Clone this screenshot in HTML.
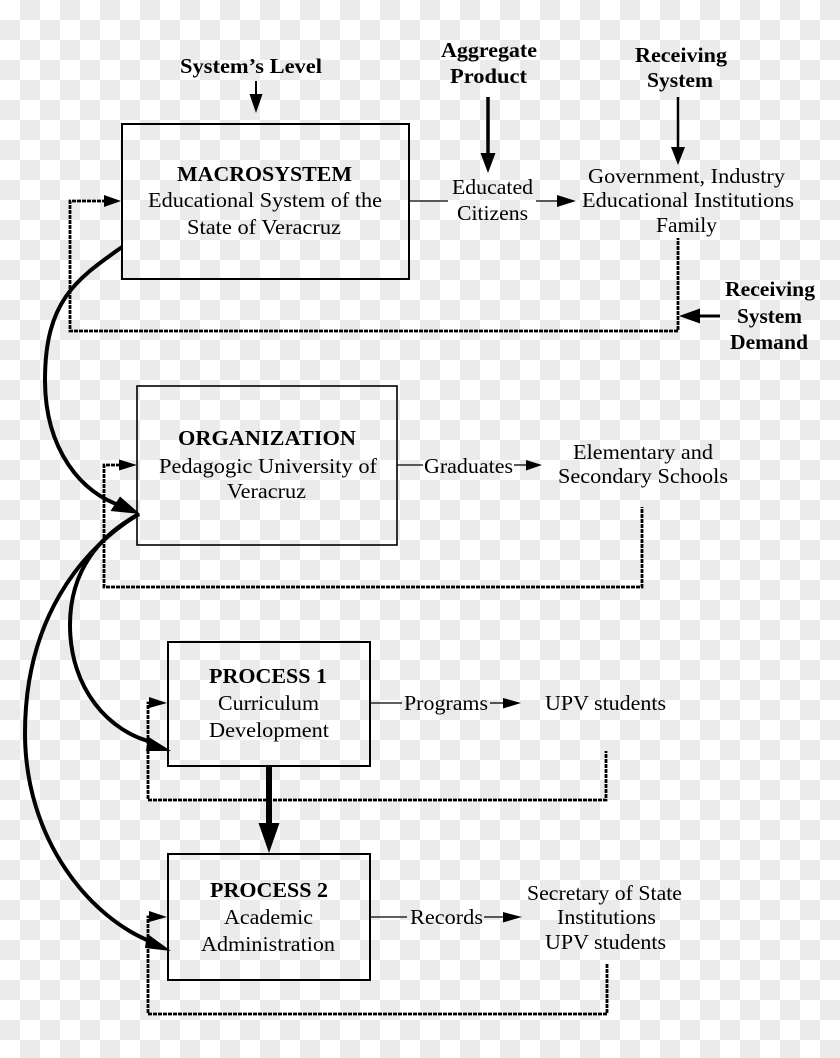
<!DOCTYPE html>
<html>
<head>
<meta charset="utf-8">
<style>
  html,body{margin:0;padding:0;background:#fff;}
  svg{display:block;}
  text{font-family:"Liberation Serif","Times New Roman",serif;fill:#000;font-size:21px;}
  .b{font-weight:bold;}
</style>
</head>
<body>
<svg width="840" height="1058" viewBox="0 0 840 1058" xmlns="http://www.w3.org/2000/svg">
  <defs>
    <pattern id="cb" x="0" y="0" width="40" height="40" patternUnits="userSpaceOnUse">
      <rect x="0" y="0" width="40" height="40" fill="#ffffff"/>
      <rect x="20" y="0" width="20" height="20" fill="#ebebeb"/>
      <rect x="0" y="20" width="20" height="20" fill="#ebebeb"/>
    </pattern>
  </defs>
  <rect x="0" y="0" width="840" height="1058" fill="url(#cb)"/>

  <!-- Boxes -->
  <rect x="122" y="124" width="287" height="155" fill="none" stroke="#000" stroke-width="2"/>
  <rect x="137" y="386" width="260" height="159" fill="none" stroke="#000" stroke-width="1.6"/>
  <rect x="168" y="642" width="202" height="124" fill="none" stroke="#000" stroke-width="2"/>
  <rect x="168" y="854" width="202" height="126" fill="none" stroke="#000" stroke-width="2"/>

  <!-- Dotted feedback loops -->
  <g fill="none" stroke="#000" stroke-width="2.8" stroke-dasharray="4 1">
    <path d="M106,201 H70 V331 H678 V238"/>
    <path d="M120,465 H104 V587 H642 V507"/>
    <path d="M151,703 H148 V800 H606 V751"/>
    <path d="M151,917 H148 V1014 H607 V964"/>
  </g>
  <g fill="#000">
    <polygon points="121,201 104,195 104,207"/>
    <polygon points="137,465 119,459.5 119,470.5"/>
    <polygon points="167,703 149,697 149,708"/>
    <polygon points="167,917 149,911 149,922"/>
  </g>

  <!-- Thin connectors -->
  <g fill="none" stroke="#000" stroke-width="1.3">
    <path d="M409,201 H448"/>
    <path d="M536,201 H560"/>
    <path d="M397,465 H423"/>
    <path d="M514,465 H528"/>
    <path d="M370,703 H402"/>
    <path d="M490,703 H504"/>
    <path d="M370,917 H407"/>
    <path d="M484,917 H504"/>
  </g>
  <g fill="#000">
    <polygon points="576,201 557,195 557,207"/>
    <polygon points="542,465 526,460 526,470.5"/>
    <polygon points="521,703 503,698 503,708.5"/>
    <polygon points="522,917 503,912 503,922.5"/>
  </g>

  <!-- Vertical/horizontal input arrows -->
  <g fill="none" stroke="#000">
    <path d="M256,81 V100" stroke-width="2"/>
    <path d="M488,97 V156" stroke-width="3.5"/>
    <path d="M678,97 V150" stroke-width="2.5"/>
    <path d="M720,316 H697" stroke-width="3"/>
    <path d="M269,766 V826" stroke-width="6"/>
  </g>
  <g fill="#000">
    <polygon points="256,113 249.5,94 262.5,94"/>
    <polygon points="488,173 480.5,153 495.5,153"/>
    <polygon points="678,165 671,147 685,147"/>
    <polygon points="679,316 700,308.5 700,323.5"/>
    <polygon points="269,853 258.5,823 279.5,823"/>
  </g>

  <!-- Thick curved arrows -->
  <g fill="none" stroke="#000" stroke-width="4">
    <path d="M122,247 C77,279 45,300 45,380 C45,450 82,494 122,506"/>
    <path d="M139,514 C80,550 25,620 25,733 C25,840 90,918 152,942"/>
    <path d="M139,514 C100,535 70,570 70,625 C70,690 110,732 152,742"/>
  </g>
  <g fill="#000">
    <polygon points="140,514 120,496.5 110.5,511"/>
    <polygon points="171,751 148,736.5 146,751"/>
    <polygon points="171,951 147,933.5 145,948"/>
  </g>

  <!-- Bold labels -->
  <text class="b" x="180" y="73" textLength="142" lengthAdjust="spacingAndGlyphs">System’s Level</text>
  <text class="b" x="441" y="57" textLength="96" lengthAdjust="spacingAndGlyphs">Aggregate</text>
  <text class="b" x="450" y="83" textLength="77" lengthAdjust="spacingAndGlyphs">Product</text>
  <text class="b" x="635" y="62" textLength="92" lengthAdjust="spacingAndGlyphs">Receiving</text>
  <text class="b" x="647" y="87" textLength="66" lengthAdjust="spacingAndGlyphs">System</text>
  <text class="b" x="725" y="296" textLength="90" lengthAdjust="spacingAndGlyphs">Receiving</text>
  <text class="b" x="737" y="323" textLength="65" lengthAdjust="spacingAndGlyphs">System</text>
  <text class="b" x="730" y="349" textLength="78" lengthAdjust="spacingAndGlyphs">Demand</text>
  <text class="b" x="177" y="181" textLength="175" lengthAdjust="spacingAndGlyphs">MACROSYSTEM</text>
  <text class="b" x="178" y="445" textLength="178" lengthAdjust="spacingAndGlyphs">ORGANIZATION</text>
  <text class="b" x="209" y="683" textLength="118" lengthAdjust="spacingAndGlyphs">PROCESS 1</text>
  <text class="b" x="210" y="897" textLength="118" lengthAdjust="spacingAndGlyphs">PROCESS 2</text>

  <!-- Regular labels -->
  <text x="148" y="207" textLength="234" lengthAdjust="spacingAndGlyphs">Educational System of the</text>
  <text x="187" y="234" textLength="154" lengthAdjust="spacingAndGlyphs">State of Veracruz</text>
  <text x="452" y="194" textLength="81" lengthAdjust="spacingAndGlyphs">Educated</text>
  <text x="457" y="220" textLength="71" lengthAdjust="spacingAndGlyphs">Citizens</text>
  <text x="588" y="183" textLength="197" lengthAdjust="spacingAndGlyphs">Government, Industry</text>
  <text x="582" y="207" textLength="212" lengthAdjust="spacingAndGlyphs">Educational Institutions</text>
  <text x="656" y="232" textLength="61" lengthAdjust="spacingAndGlyphs">Family</text>
  <text x="159" y="473" textLength="218" lengthAdjust="spacingAndGlyphs">Pedagogic University of</text>
  <text x="227" y="498" textLength="79" lengthAdjust="spacingAndGlyphs">Veracruz</text>
  <text x="424" y="473" textLength="89" lengthAdjust="spacingAndGlyphs">Graduates</text>
  <text x="573" y="459" textLength="140" lengthAdjust="spacingAndGlyphs">Elementary and</text>
  <text x="558" y="483" textLength="170" lengthAdjust="spacingAndGlyphs">Secondary Schools</text>
  <text x="218" y="710" textLength="101" lengthAdjust="spacingAndGlyphs">Curriculum</text>
  <text x="209" y="737" textLength="120" lengthAdjust="spacingAndGlyphs">Development</text>
  <text x="404" y="710" textLength="84" lengthAdjust="spacingAndGlyphs">Programs</text>
  <text x="545" y="710" textLength="121" lengthAdjust="spacingAndGlyphs">UPV students</text>
  <text x="224" y="924" textLength="89" lengthAdjust="spacingAndGlyphs">Academic</text>
  <text x="201" y="951" textLength="134" lengthAdjust="spacingAndGlyphs">Administration</text>
  <text x="410" y="924" textLength="73" lengthAdjust="spacingAndGlyphs">Records</text>
  <text x="527" y="900" textLength="155" lengthAdjust="spacingAndGlyphs">Secretary of State</text>
  <text x="557" y="924" textLength="99" lengthAdjust="spacingAndGlyphs">Institutions</text>
  <text x="545" y="949" textLength="121" lengthAdjust="spacingAndGlyphs">UPV students</text>
</svg>
</body>
</html>
